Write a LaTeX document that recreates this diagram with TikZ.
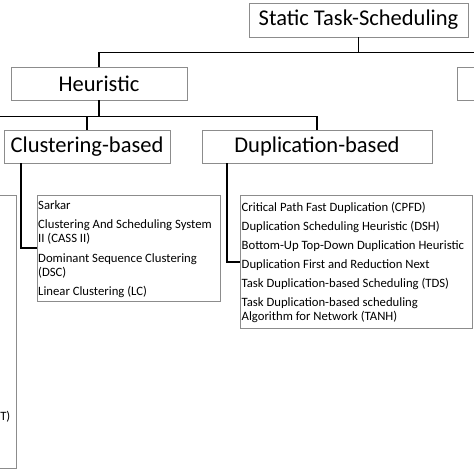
\documentclass[tikz,border=0pt]{standalone}
\usepackage{fontspec}
\setmainfont{Carlito}
\begin{document}
\begin{tikzpicture}[x=1pt,y=-1pt,
  box/.style={draw=black!45, line width=0.9pt, inner sep=0pt, fill=white},
  big/.style={font=\fontsize{22.5}{26}\selectfont},
  listbox/.style={draw=black!45, line width=0.9pt, inner sep=0pt, anchor=north west},
  listtext/.style={anchor=north west, align=left, inner sep=0pt, font=\fontsize{12.7}{14}\selectfont},
  conn/.style={draw=black, line width=1.6pt}]
\useasboundingbox (0,0) rectangle (474,474);
% level 0
\node[box, big, minimum width=219pt, minimum height=34pt] (root) at (358.5,20) {Static Task-Scheduling};
% level 1
\node[box, big, minimum width=176pt, minimum height=33pt] (heur) at (99,83.5) {Heuristic};
\node[box, big, minimum width=176pt, minimum height=33pt] (rc) at (545,83.5) {};
% level 2
\node[box, big, minimum width=166pt, minimum height=33pt] (clu) at (87,146.5) {Clustering-based};
\node[box, big, minimum width=230pt, minimum height=33pt] (dup) at (317,146.5) {Duplication-based};
\node[box, big, minimum width=166pt, minimum height=33pt] (lc) at (-150,146.5) {};
% lists
\node[listbox, minimum width=183pt, minimum height=106pt] (clist) at (37,195) {};
\node[listtext] (ctext) at (38,200) {Sarkar\\[5.5pt]
Clustering And Scheduling System\\ II (CASS II)\\[5.5pt]
Dominant Sequence Clustering\\ (DSC)\\[5.5pt]
Linear Clustering (LC)};
\node[listbox, minimum width=232pt, minimum height=133pt] (dlist) at (240,195) {};
\node[listtext] (dtext) at (241.5,202) {Critical Path Fast Duplication (CPFD)\\[5pt]
Duplication Scheduling Heuristic (DSH)\\[5pt]
Bottom-Up Top-Down Duplication Heuristic\\[5pt]
Duplication First and Reduction Next\\[5pt]
Task Duplication-based Scheduling (TDS)\\[5pt]
Task Duplication-based scheduling\\ Algorithm for Network (TANH)};
\node[listbox, minimum width=100pt, minimum height=273pt] (llist) at (-84,195) {};
\node[anchor=east, inner sep=0pt, font=\fontsize{12.7}{14}\selectfont] (ltext) at (10.5,417) {T)};
% connectors
\draw[conn] (root.south) -- ++(0,15) -| (rc.north);
\draw[conn] (root.south) ++(0,15) -| (heur.north);
\draw[conn] (heur.south) -- ++(0,16) -| (dup.north);
\draw[conn] (heur.south) ++(0,16) -| (clu.north);
\draw[conn] (heur.south) ++(0,16) -| (lc.north);
\coordinate (cj) at (21,248);
\coordinate (dj) at (227,262);
\draw[conn] (clu.south -| cj) |- (clist.west |- cj);
\draw[conn] (dup.south -| dj) |- (dlist.west |- dj);
\end{tikzpicture}
\end{document}
